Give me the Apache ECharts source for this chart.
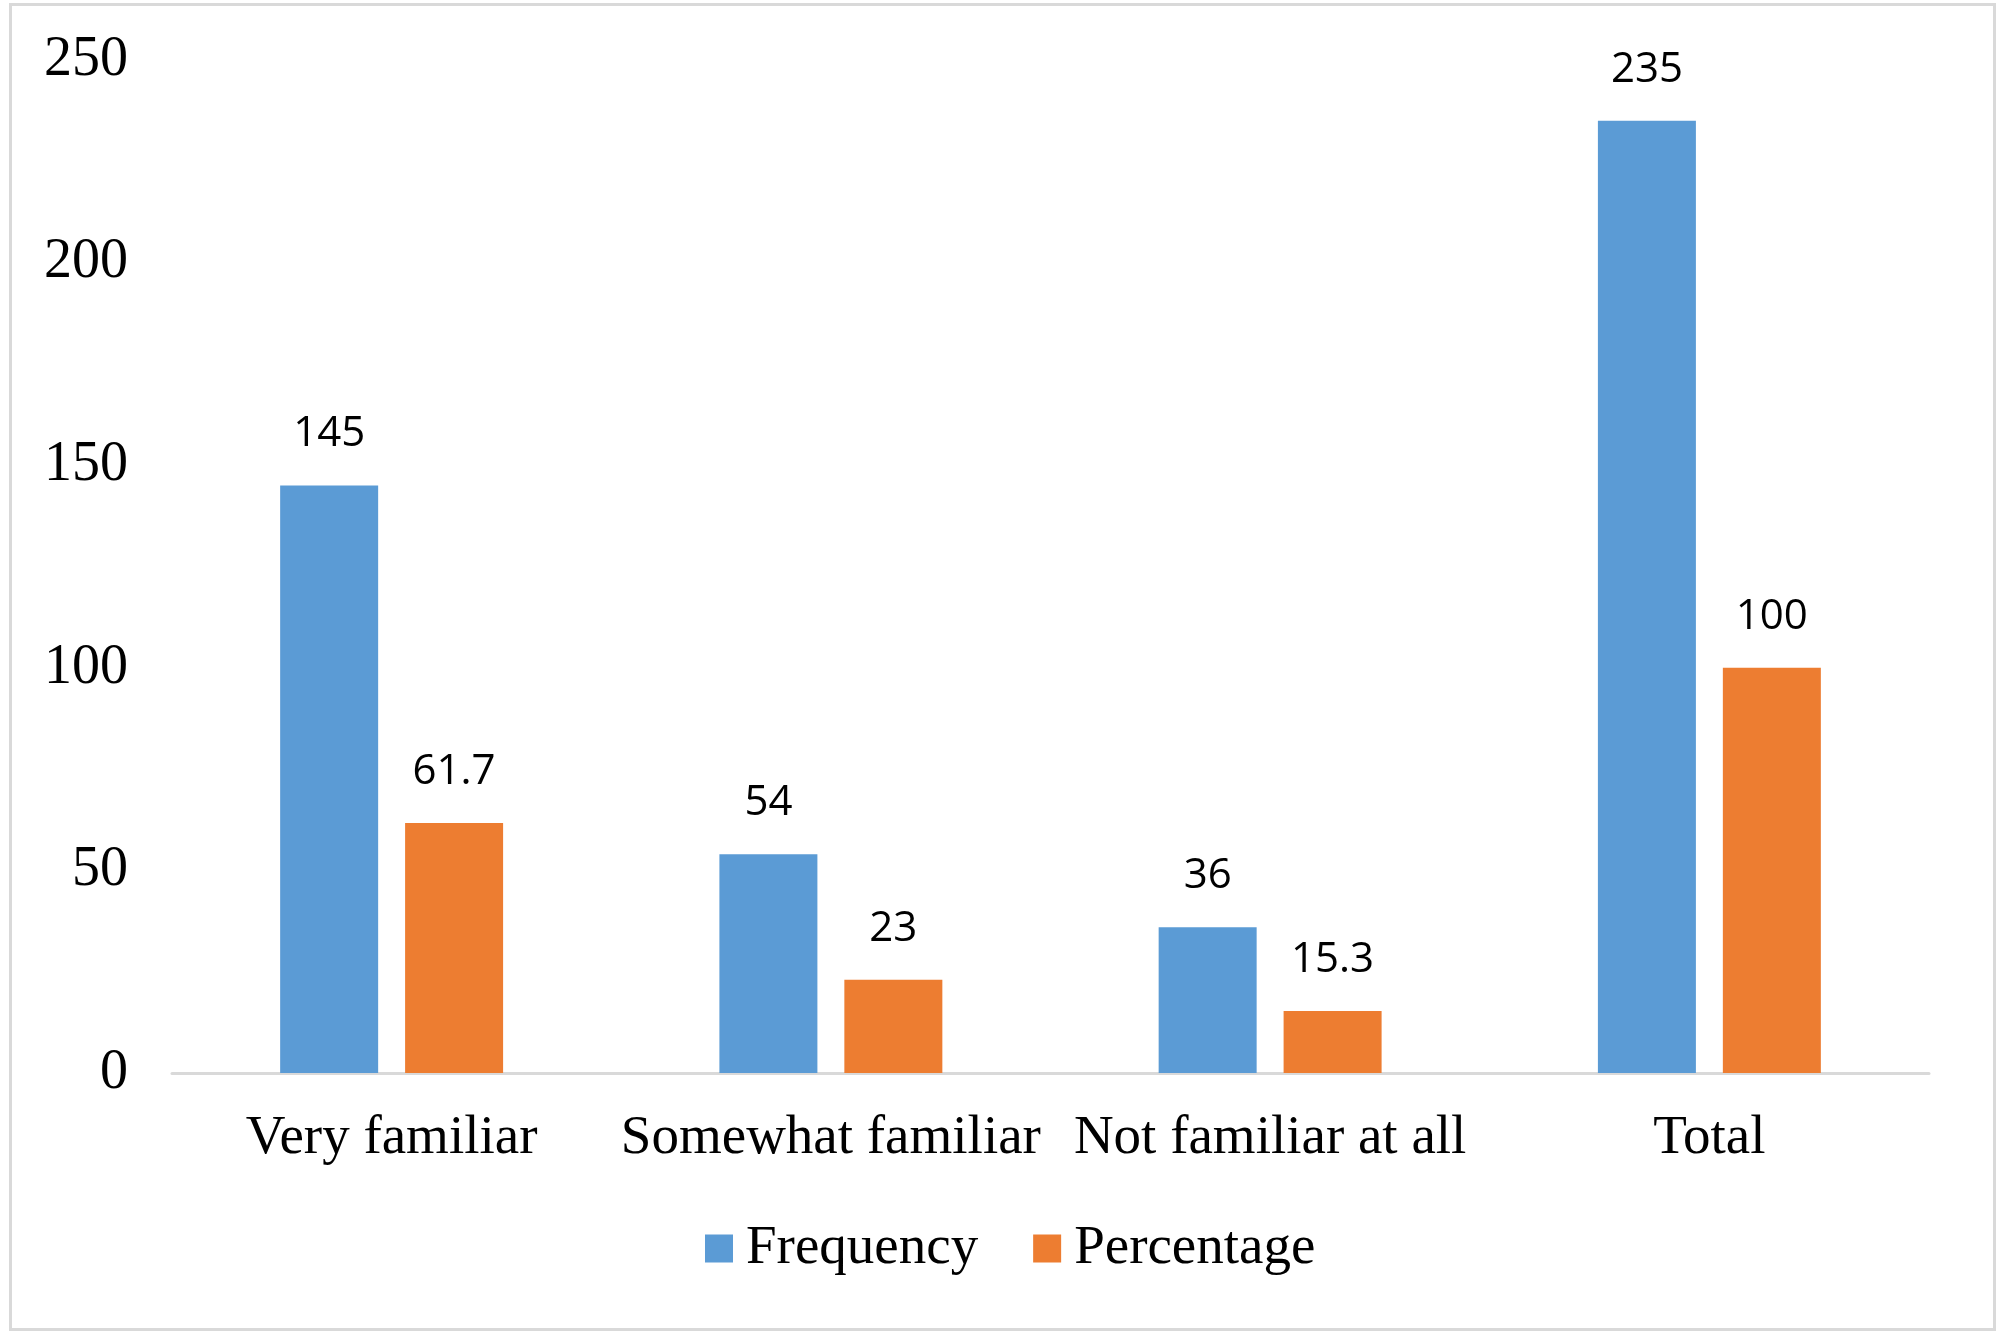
<!DOCTYPE html>
<html>
<head>
<meta charset="utf-8">
<script src="https://cdn.jsdelivr.net/npm/echarts@6/dist/echarts.min.js"></script>
<style>html,body{margin:0;padding:0;background:#fff}#c{width:2000px;height:1338px}</style>
</head>
<body>
<div id="c"></div>
<script>
const categories = ['Very familiar', 'Somewhat familiar', 'Not familiar at all', 'Total'];
const frequency = [145, 54, 36, 235];
const percentage = [61.7, 23, 15.3, 100];
const yTicks = [0, 50, 100, 150, 200, 250];

const chart = echarts.init(document.getElementById('c'), null, {renderer: 'canvas'});
const serif = '"Liberation Serif", "Times New Roman", serif';
const sans = '"Open Sans", "Liberation Sans", sans-serif';
chart.setOption({
  animation: false,
  backgroundColor: '#fff',
  graphic: [{
    type: 'rect', left: 8, top: 2, shape: {width: 1984, height: 1325},
    style: {fill: 'none', stroke: '#d9d9d9', lineWidth: 3}
  }],
  grid: {left: 172, right: 71, top: 60, bottom: 1338 - 1073},
  legend: {
    data: ['Frequency', 'Percentage'],
    top: 1216, left: 700,
    itemWidth: 28, itemHeight: 28, itemGap: 55,
    icon: 'rect',
    textStyle: {fontFamily: serif, fontSize: 55, color: '#000', padding: [0, 0, 0, 8]}
  },
  xAxis: {
    type: 'category', data: categories,
    axisLine: {lineStyle: {color: '#d9d9d9', width: 3}},
    axisTick: {show: false},
    axisLabel: {fontFamily: serif, fontSize: 55, color: '#000', margin: 38, interval: 0}
  },
  yAxis: {
    type: 'value', min: yTicks[0], max: yTicks[yTicks.length - 1], interval: 50,
    axisLine: {show: false}, axisTick: {show: false},
    splitLine: {show: false},
    axisLabel: {fontFamily: serif, fontSize: 56, color: '#000', margin: 44}
  },
  series: [{
    name: 'Frequency', type: 'bar', data: frequency, barWidth: 98, barGap: '27.5%',
    itemStyle: {color: '#5B9BD5'},
    label: {show: true, position: 'top', distance: 30, fontFamily: sans, fontSize: 42, color: '#000'}
  }, {
    name: 'Percentage', type: 'bar', data: percentage, barWidth: 98,
    itemStyle: {color: '#ED7D31'},
    label: {show: true, position: 'top', distance: 30, fontFamily: sans, fontSize: 42, color: '#000'}
  }]
});
</script>
</body>
</html>
